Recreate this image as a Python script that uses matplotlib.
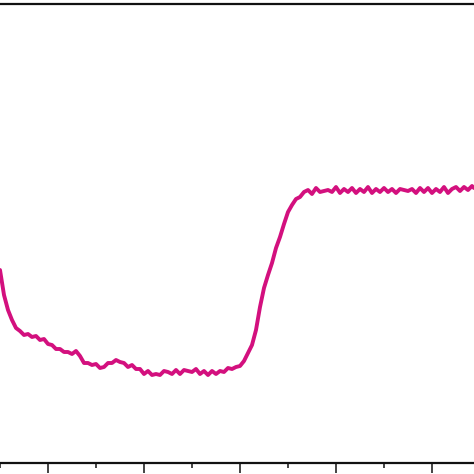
import matplotlib
matplotlib.use("Agg")
import matplotlib.pyplot as plt
from matplotlib.ticker import FixedLocator, NullFormatter

# Values (x: time axis units, y: signal units, 0 at the bottom axis)
time = [0, 4, 8, 12, 16, 20, 24, 28, 32, 36, 40, 44, 48, 52, 56, 60, 64, 68, 72, 76,
        80, 84, 88, 92, 96, 100, 104, 108, 112, 116, 120, 124, 128, 132, 136, 140, 144,
        148, 152, 156, 160, 164, 168, 172, 176, 180, 184, 188, 192, 196, 200, 204, 208,
        212, 216, 220, 224, 228, 232, 236, 240, 244, 248, 252, 256, 260, 264, 268, 272,
        276, 280, 284, 288, 292, 296, 300, 304, 308, 312, 316, 320, 324, 328, 332, 336,
        340, 344, 348, 352, 356, 360, 364, 368, 372, 376, 380, 384, 388, 392, 396, 400,
        404, 408, 412, 416, 420, 424, 428, 432, 436, 440, 444, 448, 452, 456, 460, 464,
        468, 472, 474]
rows = [270, 295, 310, 320, 328, 331, 335, 334, 337, 336, 340, 339, 344, 345, 349, 349,
        352, 352, 354, 351, 356, 363, 363, 365, 364, 368, 367, 363, 363, 360, 362, 363,
        367, 365, 369, 369, 374, 371, 375, 374, 375, 371, 372, 374, 370, 374, 370, 371,
        372, 369, 374, 371, 375, 371, 374, 371, 372, 368, 369, 367, 366, 361, 353, 345,
        330, 307, 288, 275, 263, 248, 237, 224, 212, 205, 199, 197, 192, 190, 194, 188,
        192, 191, 190, 192, 187, 193, 189, 192, 188, 193, 189, 192, 187, 193, 189, 192,
        188, 192, 189, 193, 189, 190, 191, 189, 193, 188, 192, 188, 193, 189, 192, 187,
        193, 189, 187, 191, 187, 190, 186, 188]
signal = [463 - r for r in rows]

major_ticks = [48, 144, 240, 336, 432]
minor_ticks = [0, 96, 192, 288, 384]

fig = plt.figure(figsize=(4.74, 4.74), dpi=100)
ax = fig.add_axes([0.0, 1 - 463 / 474, 1.0, 459 / 474])
ax.plot(time, signal, color="#d3107e", linewidth=2.8, solid_capstyle="round",
        solid_joinstyle="round")
ax.set_xlim(0, 474)
ax.set_ylim(0, 459)

ax.spines["left"].set_visible(False)
ax.spines["right"].set_visible(False)
for s in ("top", "bottom"):
    ax.spines[s].set_linewidth(1.6)
    ax.spines[s].set_color("#111111")

ax.xaxis.set_major_locator(FixedLocator(major_ticks))
ax.xaxis.set_minor_locator(FixedLocator(minor_ticks))
ax.xaxis.set_major_formatter(NullFormatter())
ax.tick_params(axis="x", which="major", direction="out", length=7.5, width=1.1,
               color="#111111", labelbottom=False)
ax.tick_params(axis="x", which="minor", direction="out", length=3.8, width=1.1,
               color="#111111")
ax.set_yticks([])

fig.savefig("out.png", dpi=100)
